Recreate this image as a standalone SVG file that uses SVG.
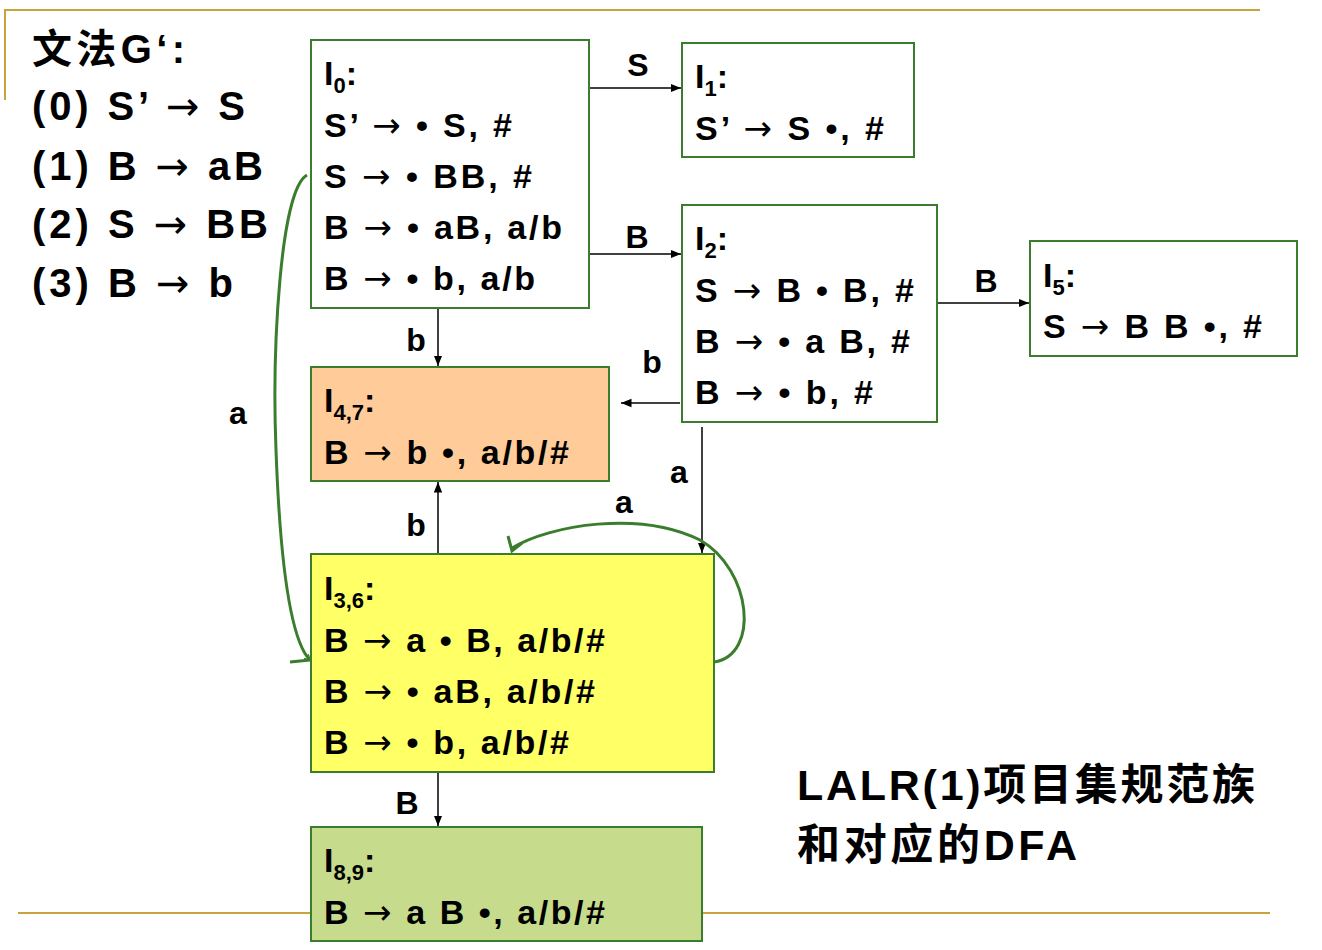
<svg xmlns="http://www.w3.org/2000/svg" width="1322" height="950" viewBox="0 0 1322 950">
<style>
text{font-family:"Liberation Sans","Noto Sans CJK SC",sans-serif;font-weight:bold;fill:#000}
.t{font-size:34px}
.gr{font-size:40px}
.l{font-size:32px}
.ar{font-family:"DejaVu Sans",sans-serif;font-weight:normal}
.box{stroke:#3A7D2C;stroke-width:2}
.e{stroke:#000;stroke-width:1.5;fill:none}
.g{stroke:#3A7D2C;stroke-width:3;fill:none}
</style>
<defs>
<marker id="a" viewBox="0 0 10 10" refX="10" refY="5" markerWidth="7" markerHeight="7" orient="auto"><path d="M0,1 L10,5 L0,9 z" fill="#000"/></marker>
<marker id="v" viewBox="0 0 10 10" refX="9" refY="5" markerWidth="6" markerHeight="6" orient="auto" markerUnits="userSpaceOnUse"><path d="M0,0 L9,5 L0,10" fill="none" stroke="#3A7D2C" stroke-width="2"/></marker>
</defs>
<rect width="1322" height="950" fill="#fff"/>
<path d="M5,100 V10 H1260" stroke="#C9A23C" stroke-width="2" fill="none"/>
<path d="M18,913 H1270" stroke="#C9A23C" stroke-width="2" fill="none"/>
<g id="grammar">
<text x="32" y="63" class="gr" textLength="153" lengthAdjust="spacing">文法G‘:</text>
<text x="32" y="120" class="gr" textLength="213" lengthAdjust="spacing">(0) S’ <tspan class="ar">→</tspan> S</text>
<text x="32" y="180" class="gr" textLength="231" lengthAdjust="spacing">(1) B <tspan class="ar">→</tspan> aB</text>
<text x="32" y="238" class="gr" textLength="236" lengthAdjust="spacing">(2) S <tspan class="ar">→</tspan> BB</text>
<text x="32" y="297" class="gr" textLength="201" lengthAdjust="spacing">(3) B <tspan class="ar">→</tspan> b</text>
</g>
<g id="connectors">
<line class="e" x1="589" y1="88" x2="681" y2="88" marker-end="url(#a)"/>
<line class="e" x1="589" y1="254" x2="681" y2="254" marker-end="url(#a)"/>
<line class="e" x1="438" y1="308" x2="438" y2="366" marker-end="url(#a)"/>
<line class="e" x1="937" y1="303" x2="1029" y2="303" marker-end="url(#a)"/>
<line class="e" x1="680" y1="403" x2="621" y2="403" marker-end="url(#a)"/>
<line class="e" x1="702" y1="427" x2="702" y2="553" marker-end="url(#a)"/>
<line class="e" x1="438" y1="553" x2="438" y2="482" marker-end="url(#a)"/>
<line class="e" x1="438" y1="772" x2="438" y2="826" marker-end="url(#a)"/>
<path class="g" d="M307,175 C280,190 272,350 276,450 C280,560 290,640 310,660" marker-end="url(#v)"/>
<line x1="290" y1="662" x2="310" y2="660" stroke="#3A7D2C" stroke-width="3"/>
<path class="g" d="M714,662 C760,655 752,570 700,540 C640,510 550,525 512,548"/>
<path d="M508,536 L512,551 L522,543" class="g" stroke-width="3"/>
<text x="638" y="76" class="l" text-anchor="middle">S</text>
<text x="637" y="248" class="l" text-anchor="middle">B</text>
<text x="416" y="351" class="l" text-anchor="middle">b</text>
<text x="986" y="292" class="l" text-anchor="middle">B</text>
<text x="652" y="373" class="l" text-anchor="middle">b</text>
<text x="679" y="483" class="l" text-anchor="middle">a</text>
<text x="624" y="513" class="l" text-anchor="middle">a</text>
<text x="416" y="536" class="l" text-anchor="middle">b</text>
<text x="407" y="814" class="l" text-anchor="middle">B</text>
<text x="238" y="424" class="l" text-anchor="middle">a</text>
</g>
<g id="I0">
<rect class="box" x="311" y="40" width="278" height="268" fill="#fff"/>
<text x="324" y="85" class="t">I<tspan font-size="22" dy="8">0</tspan><tspan dy="-8">:</tspan></text>
<text x="324" y="137" class="t" textLength="188" lengthAdjust="spacing">S’ <tspan class="ar">→</tspan> • S, #</text>
<text x="324" y="188" class="t" textLength="208" lengthAdjust="spacing">S <tspan class="ar">→</tspan> • BB, #</text>
<text x="324" y="239" class="t" textLength="238" lengthAdjust="spacing">B <tspan class="ar">→</tspan> • aB, a/b</text>
<text x="324" y="290" class="t" textLength="211" lengthAdjust="spacing">B <tspan class="ar">→</tspan> • b, a/b</text>
</g>
<g id="I1">
<rect class="box" x="682" y="43" width="232" height="114" fill="#fff"/>
<text x="695" y="88" class="t">I<tspan font-size="22" dy="8">1</tspan><tspan dy="-8">:</tspan></text>
<text x="695" y="140" class="t" textLength="189" lengthAdjust="spacing">S’ <tspan class="ar">→</tspan> S •, #</text>
</g>
<g id="I2">
<rect class="box" x="682" y="205" width="255" height="217" fill="#fff"/>
<text x="695" y="250" class="t">I<tspan font-size="22" dy="8">2</tspan><tspan dy="-8">:</tspan></text>
<text x="695" y="302" class="t" textLength="219" lengthAdjust="spacing">S <tspan class="ar">→</tspan> B • B, #</text>
<text x="695" y="353" class="t" textLength="215" lengthAdjust="spacing">B <tspan class="ar">→</tspan> • a B, #</text>
<text x="695" y="404" class="t" textLength="178" lengthAdjust="spacing">B <tspan class="ar">→</tspan> • b, #</text>
</g>
<g id="I5">
<rect class="box" x="1030" y="241" width="267" height="115" fill="#fff"/>
<text x="1043" y="287" class="t">I<tspan font-size="22" dy="8">5</tspan><tspan dy="-8">:</tspan></text>
<text x="1043" y="338" class="t" textLength="219" lengthAdjust="spacing">S <tspan class="ar">→</tspan> B B •, #</text>
</g>
<g id="I47">
<rect class="box" x="311" y="367" width="298" height="114" fill="#FFCC99"/>
<text x="324" y="412" class="t">I<tspan font-size="22" dy="8">4,7</tspan><tspan dy="-8">:</tspan></text>
<text x="324" y="464" class="t" textLength="245" lengthAdjust="spacing">B <tspan class="ar">→</tspan> b •, a/b/#</text>
</g>
<g id="I36">
<rect class="box" x="311" y="554" width="403" height="218" fill="#FFFF66"/>
<text x="324" y="600" class="t">I<tspan font-size="22" dy="8">3,6</tspan><tspan dy="-8">:</tspan></text>
<text x="324" y="652" class="t" textLength="281" lengthAdjust="spacing">B <tspan class="ar">→</tspan> a • B, a/b/#</text>
<text x="324" y="703" class="t" textLength="271" lengthAdjust="spacing">B <tspan class="ar">→</tspan> • aB, a/b/#</text>
<text x="324" y="754" class="t" textLength="245" lengthAdjust="spacing">B <tspan class="ar">→</tspan> • b, a/b/#</text>
</g>
<g id="I89">
<rect class="box" x="311" y="827" width="391" height="114" fill="#C6DC8C"/>
<text x="324" y="872" class="t">I<tspan font-size="22" dy="8">8,9</tspan><tspan dy="-8">:</tspan></text>
<text x="324" y="924" class="t" textLength="281" lengthAdjust="spacing">B <tspan class="ar">→</tspan> a B •, a/b/#</text>
</g>
<g id="caption">
<text x="797" y="800" font-size="43" textLength="458" lengthAdjust="spacing">LALR(1)项目集规范族</text>
<text x="797" y="860" font-size="43" textLength="280" lengthAdjust="spacing">和对应的DFA</text>
</g>
</svg>
